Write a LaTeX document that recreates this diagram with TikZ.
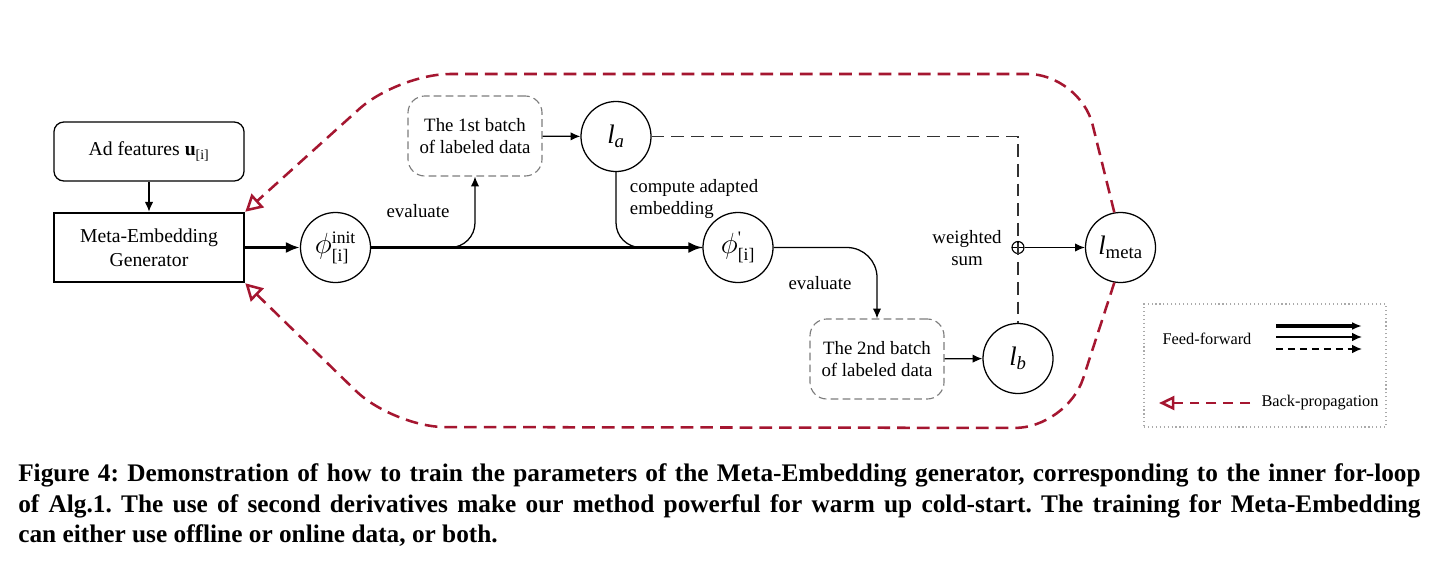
\documentclass[tikz,border=0pt]{standalone}
\usepackage{amsmath}
\usepackage{fontspec}
\setmainfont{Liberation Serif}
\usetikzlibrary{arrows.meta,calc}
\definecolor{backred}{RGB}{165,22,48}
\definecolor{batchgray}{RGB}{125,125,125}
\definecolor{legendgray}{RGB}{170,170,170}
\definecolor{dashblack}{RGB}{50,50,50}
\newcommand{\idxsz}{\fontsize{12.5}{14}\selectfont}
\tikzset{
  thinline/.style={line width=0.9pt,draw=black},
  thinarr/.style={-{Latex[length=7pt,width=6pt]},line width=0.9pt,draw=black},
  thickarr/.style={-{Latex[length=10pt,width=8pt]},line width=2.1pt,draw=black},
  sumline/.style={line width=0.9pt,draw=dashblack,dash pattern=on 9pt off 5pt},
  backprop/.style={-{Triangle[open,length=12pt,width=13pt]},line width=1.8pt,draw=backred,
    dash pattern=on 9pt off 5pt,rounded corners=1.3cm},
  featbox/.style={draw,line width=0.9pt,rounded corners=7pt,minimum width=4.75cm,
    minimum height=1.475cm,font=\fontsize{14}{17}\selectfont},
  genbox/.style={draw,line width=1.8pt,minimum width=4.75cm,minimum height=1.725cm,
    align=center,font=\fontsize{14}{17}\selectfont},
  batch/.style={draw=batchgray,line width=0.8pt,dash pattern=on 5.5pt off 3pt,
    rounded corners=12pt,minimum width=3.35cm,minimum height=2cm,align=center,
    font=\fontsize{13.4}{16}\selectfont},
  var/.style={circle,draw,line width=0.9pt,minimum size=1.75cm,inner sep=0pt},
  phivar/.style={var,font=\fontsize{20.74}{24}\selectfont},
  lvar/.style={var,font=\fontsize{19}{22}\selectfont},
  sumnode/.style={circle,draw,line width=0.8pt,minimum size=0.3cm,inner sep=0pt,
    path picture={\draw[line width=0.8pt] (path picture bounding box.north) -- (path picture bounding box.south)
      (path picture bounding box.west) -- (path picture bounding box.east);}},
  lab/.style={font=\fontsize{13.4}{16}\selectfont,align=center},
  legtext/.style={font=\fontsize{11.6}{14}\selectfont},
  caption/.style={font=\fontsize{18}{22}\selectfont\bfseries\frenchspacing,anchor=base west,inner sep=0pt}
}

\begin{document}
\begin{tikzpicture}[x=0.025cm,y=-0.025cm]
\useasboundingbox[fill=white] (0,0) rectangle (1440,572);

% blocks
\node[featbox] (ad) at (149,151.5) {Ad features \textbf{u}\textsubscript{[i]}};
\node[genbox] (gen) at (149,247.5) {Meta-Embedding\\Generator};
\node[phivar] (phinit) at (335.5,247.5)
  {$\phi^{\text{\idxsz init}}_{\text{\idxsz[i]}}$};
\node[batch] (batchA) at (475,136) {The 1st batch\\of labeled data};
\node[lvar] (la) at (616,136.5) {$\textit{l}_{\textit{a}}$};
\node[phivar] (phiad) at (738,247.5)
  {$\phi^{\text{\idxsz\textquotesingle}}_{\text{\idxsz[i]}}$};
\node[batch] (batchB) at (877,359) {The 2nd batch\\of labeled data};
\node[lvar] (lb) at (1018,358.5) {$\textit{l}_{\textit{b}}$};
\node[sumnode] (sum) at (1018,247.5) {};
\node[lvar] (lmeta) at (1120.5,247.5) {$\textit{l}_{\text{meta}}$};

% feed-forward
\draw[thinarr] (ad) -- (gen);
\draw[thickarr] (gen) -- (phinit);
\draw[thinarr,rounded corners=0.62cm] (phinit.east) -| (batchA.south);
\draw[thinarr] (batchA) -- (la);
\draw[thinline,rounded corners=0.62cm] (la.south) |- (phiad.west);
\draw[thickarr] (phinit) -- (phiad);
\draw[thinarr,rounded corners=0.75cm] (phiad.east) -| (batchB.north);
\draw[thinarr] (batchB) -- (lb);
\draw[sumline] (la.east) -| (lb.north);
\draw[thinarr] (sum) -- (lmeta);

\node[lab] at (418,211) {evaluate};
\node[lab,align=left,anchor=west] at (625,199) {compute adapted\\embedding};
\node[lab] at (820,283) {evaluate};
\node[lab] at (967,248) {weighted\\sum};

% back-propagation
\draw[backprop] (lmeta.100) -- (1080,74) -- (398,74) -- (gen.north east);
\draw[backprop] (lmeta.260) -- (1067,428) -- (393,427) -- (gen.south east);

% legend
\node[draw=legendgray,line width=0.8pt,dotted,minimum width=6.05cm,minimum height=3.075cm]
  (legend) at (1265,365.5) {};
\node[legtext] (ffw) at (1207,339) {Feed-forward};
\coordinate (ffa) at (1276,326);
\coordinate (ffb) at (1362,326);
\coordinate (fta) at (1276,337);
\coordinate (ftb) at (1362,337);
\coordinate (fda) at (1276,349);
\coordinate (fdb) at (1362,349);
\draw[thickarr,line width=2.4pt,-{Latex[length=7pt,width=5.5pt]}] (ffa) -- (ffb);
\draw[thinarr] (fta) -- (ftb);
\draw[thinarr,dash pattern=on 5pt off 3.5pt] (fda) -- (fdb);
\node[legtext] (bpw) at (1320,403) {Back-propagation};
\coordinate (bpa) at (1250,403);
\coordinate (bpb) at (1159,403);
\draw[backprop,dash pattern=on 7pt off 5pt,-{Triangle[open,length=11pt,width=10pt]}] (bpa) -- (bpb);

% caption
\node[caption] (cap1) at (18,481) {\makebox[35.05cm][s]{Figure 4: Demonstration of how to train the parameters of the Meta-Embedding generator, corresponding to the inner for-loop}};
\node[caption] (cap2) at (18,512) {\makebox[35.05cm][s]{of Alg.1. The use of second derivatives make our method powerful for warm up cold-start. The training for Meta-Embedding}};
\node[caption] (cap3) at (18,542) {can either use offline or online data, or both.};
\end{tikzpicture}
\end{document}
